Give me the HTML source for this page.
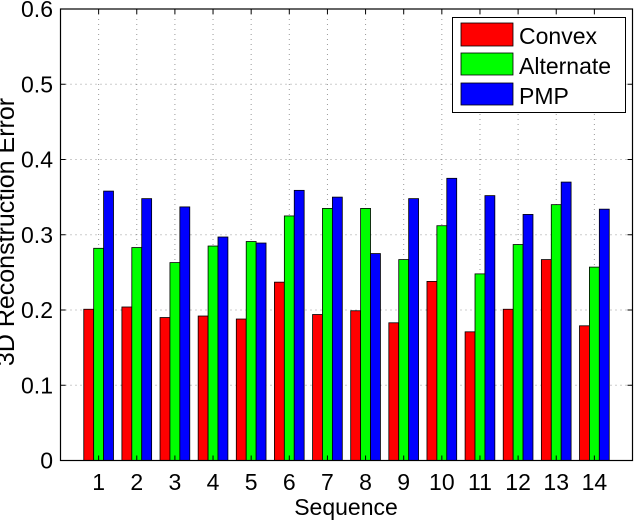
<!DOCTYPE html>
<html><head><meta charset="utf-8"><style>
html,body{margin:0;padding:0;background:#fff;}
svg{display:block;font-family:"Liberation Sans",sans-serif;}
</style></head><body>
<svg width="636" height="521" viewBox="0 0 636 521" xmlns="http://www.w3.org/2000/svg">
<rect width="636" height="521" fill="#fff"/>
<g id="grid" stroke="#999" stroke-width="1" stroke-dasharray="1,4"></g>
<g id="bars" stroke="#000" stroke-width="0.8"></g>
<g id="axes"></g>
<text x="14" y="232" transform="rotate(-90 14 232)" font-size="25" text-anchor="middle">3D Reconstruction Error</text>
<text x="346" y="515" font-size="23" text-anchor="middle">Sequence</text>
<g>
<rect x="452.5" y="17.5" width="173" height="95" fill="#fff" stroke="#000" stroke-width="1"/>
<rect x="461" y="23" width="52" height="23" fill="#f00" stroke="#000" stroke-width="0.8"/>
<rect x="461" y="53" width="52" height="22" fill="#0f0" stroke="#000" stroke-width="0.8"/>
<rect x="461" y="83" width="52" height="22" fill="#00f" stroke="#000" stroke-width="0.8"/>
<text x="519" y="44" font-size="23">Convex</text>
<text x="519" y="74" font-size="23">Alternate</text>
<text x="519" y="104" font-size="23">PMP</text>
</g>
</svg>
<script>
var L=60.5,R=632.5,T=9,B=460.5,S=(B-T)/0.6,W=(R-L)/15;
var d=[[.201,.282,.358],[.204,.283,.348],[.190,.263,.337],[.192,.285,.297],[.188,.291,.289],[.237,.325,.359],[.194,.335,.350],[.199,.335,.275],[.183,.267,.348],[.238,.312,.375],[.171,.248,.352],[.201,.287,.327],[.267,.340,.370],[.179,.257,.334]];
var ns="http://www.w3.org/2000/svg";
function el(p,t,a,txt){var e=document.createElementNS(ns,t);for(var k in a)e.setAttribute(k,a[k]);if(txt!=null)e.textContent=txt;document.getElementById(p).appendChild(e);return e;}
var g='grid',b='bars',ax='axes';
for(var i=1;i<=14;i++){var x=L+i*W;el(g,'line',{x1:x,x2:x,y1:T,y2:B});}
for(var j=1;j<=5;j++){var y=B-j*0.1*S;el(g,'line',{x1:L,x2:R,y1:y,y2:y});}
var cols=['#f00','#0f0','#00f'],bw=W*0.26;
d.forEach(function(r,i){var cx=L+(i+1)*W;r.forEach(function(v,k){var x=cx+(k-1.5)*bw;var h=v*S;el(b,'rect',{x:x,y:B-h,width:bw,height:h,fill:cols[k]});});});
el(ax,'rect',{x:L,y:T,width:R-L,height:B-T,fill:'none',stroke:'#000','stroke-width':1.2});
for(var i=1;i<=14;i++){var x=L+i*W;
el(ax,'line',{x1:x,x2:x,y1:B,y2:B-5,stroke:'#000'});el(ax,'line',{x1:x,x2:x,y1:T,y2:T+5,stroke:'#000'});
el(ax,'text',{x:x,y:490,'font-size':23,'text-anchor':'middle'},String(i));}
for(var j=0;j<=6;j++){var y=B-j*0.1*S;
el(ax,'line',{x1:L,x2:L+5,y1:y,y2:y,stroke:'#000'});el(ax,'line',{x1:R,x2:R-5,y1:y,y2:y,stroke:'#000'});
el(ax,'text',{x:53,y:y+8,'font-size':23,'text-anchor':'end'},j==0?'0':(j/10).toFixed(1));}
</script>
</body></html>
